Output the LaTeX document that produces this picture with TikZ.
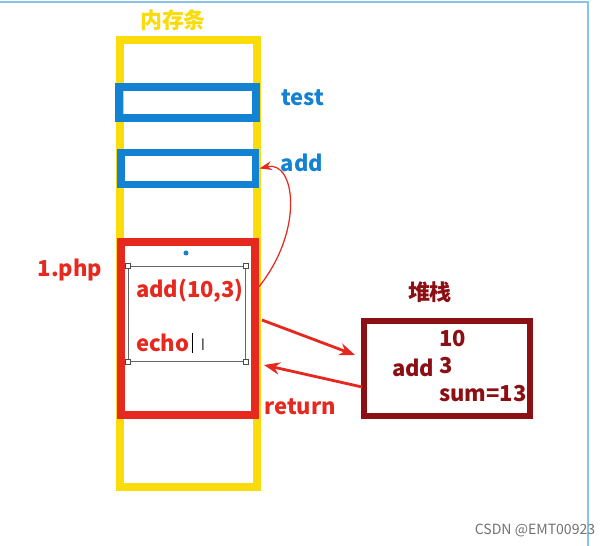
\documentclass[tikz,border=0pt]{standalone}
\usepackage{fontspec}
\setmainfont{Noto Sans CJK SC}
\usetikzlibrary{positioning,arrows.meta}
\definecolor{memyellow}{RGB}{250,220,10}
\definecolor{funblue}{RGB}{20,130,210}
\definecolor{phpred}{RGB}{230,40,30}
\definecolor{stackred}{RGB}{140,15,20}
\tikzset{
  lbl/.style={font=\bfseries\fontsize{12.5}{14}\selectfont,inner sep=1pt},
  handle/.style={draw=black!70,fill=white,minimum size=3pt,inner sep=0pt,line width=0.3pt},
  call/.style={draw=phpred,line width=1.6pt,-{Stealth[length=9pt,width=7pt]}}
}
\begin{document}
\begin{tikzpicture}[x=0.02cm,y=-0.02cm]
\useasboundingbox[fill=white] (0,0) rectangle (600,546);
% screenshot frame
\draw[funblue!50,line width=0.6pt] (0,2) -- (588,2) -- (588,546);
\draw[memyellow,line width=4pt] (120,40) rectangle (257,487);
\node[lbl,text=memyellow] (memtitle) at (173,20) {内存条};
\draw[funblue,line width=4pt] (119,87) rectangle (256,118);
\node[lbl,text=funblue] (test) at (303,98) {test};
\node[draw=funblue,line width=4pt,minimum width=2.7cm,minimum height=0.64cm,inner sep=0pt] (addbox) at (188.5,168.5) {};
\node[lbl,text=funblue] (addlbl) at (302,163) {add};
\draw[phpred,line width=4pt] (121,242) rectangle (255,415);
\node[lbl,text=phpred] (php) at (70,270) {1.php};
\node[draw=black!60,line width=0.5pt,minimum width=2.34cm,minimum height=1.9cm,inner sep=0pt] (edit) at (186.5,313.5) {};
\foreach \c in {north west,north east,south west,south east}
  \node[handle] at (edit.\c) {};
\fill[funblue] (186,253) circle (2.5);
\node[lbl,text=phpred,anchor=west] (callline) at (134,291) {add(10,3)};
\node[lbl,text=phpred,anchor=west] (echo) at (134,343) {echo};
\draw[black,line width=0.8pt] (echo.east) ++(1,-10) -- ++(0,20);
\node[font=\small,text=black!70] (cursor) at (203,345) {I};
\coordinate (callout) at (258,288);
\draw[draw=phpred,line width=0.7pt,-{Stealth[length=7pt,width=5pt]}] (callout) .. controls (305,230) and (295,160) .. (addbox.east);
\node[draw=stackred,line width=3.5pt,minimum width=3.32cm,minimum height=1.9cm,inner sep=0pt] (stack) at (447,368.5) {};
\node[lbl,text=stackred] (stacktitle) at (430,292) {堆栈};
\node[lbl,text=stackred,anchor=west] (ten) at (437,339) {10};
\node[lbl,text=stackred,anchor=west] (addname) at (390,368) {add};
\node[lbl,text=stackred,anchor=west] (three) at (437,366) {3};
\node[lbl,text=stackred,anchor=west] (sum) at (437,394) {sum=13};
\coordinate (pushfrom) at (262,320);
\coordinate (pushto) at (355,355);
\draw[call] (pushfrom) -- (pushto);
\coordinate (retfrom) at (362,387);
\coordinate (retto) at (264,365);
\draw[call] (retfrom) -- (retto);
\node[lbl,text=phpred] (ret) at (300,407) {return};
\node[font=\footnotesize,text=black!55] (csdn) at (535,530) {CSDN @EMT00923};
\end{tikzpicture}
\end{document}
